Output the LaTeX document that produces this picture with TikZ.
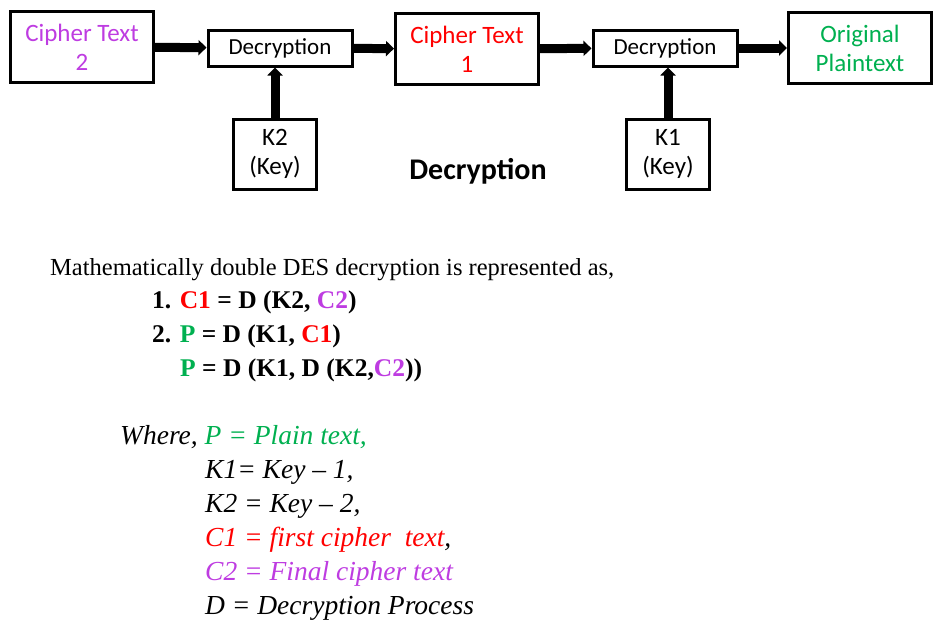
\documentclass[tikz,border=0pt]{standalone}
\usepackage{fontspec}
\setmainfont{Liberation Serif}
\newfontfamily\boxfont{Carlito}
\usetikzlibrary{arrows.meta}
\definecolor{cpurple}{RGB}{190,60,225}
\definecolor{cgreen}{RGB}{0,176,80}
\definecolor{cred}{RGB}{255,0,0}
\begin{document}
\begin{tikzpicture}[x=1pt,y=-1pt,
    box/.style={draw=black, line width=3pt, align=center, inner sep=0pt,
                font=\boxfont\fontsize{25}{29}\selectfont},
    dec/.style={box, minimum width=144pt, minimum height=36pt,
                font=\boxfont\fontsize{23}{26}\selectfont},
    txt/.style={box, minimum width=143pt, minimum height=71pt},
    key/.style={box, minimum width=83pt, minimum height=70pt},
    flow/.style={line width=9pt, -{Triangle[length=8pt,width=15pt]}},
    line/.style={anchor=base west, inner sep=0pt, font=\fontsize{24.5}{28}\selectfont}]
    \useasboundingbox (0,0) rectangle (943,633);
    % BOXES
    \node[txt, text=cpurple] (C2) at (82,47) {Cipher Text\\2};
    \node[dec] (D1) at (280,48) {Decryption};
    \node[txt, text=cred] (C1) at (467,49) {Cipher Text\\1};
    \node[dec] (D2) at (665,48) {Decryption};
    \node[txt, text=cgreen] (P) at (860,48) {Original\\Plaintext};
    \node[key] (K2) at (275,154) {K2\\(Key)};
    \node[key] (K1) at (668,154) {K1\\(Key)};
    % caption
    \node[font=\boxfont\bfseries\fontsize{30}{34}\selectfont] (Cap) at (478,171) {Decryption};

    % ARROWS
    \draw[flow] (C2) -- (D1);
    \draw[flow] (D1) -- (C1);
    \draw[flow] (C1) -- (D2);
    \draw[flow] (D2) -- (P);
    \draw[flow] (K2.north) -- (K2.north |- D1.south);
    \draw[flow] (K1.north) -- (K1.north |- D2.south);

    % EQUATIONS
    \node[line] (L0) at (50,275) {Mathematically double DES decryption is represented as,};
    \node[line, font=\bfseries\fontsize{25.5}{28}\selectfont] (L1) at (152,308)
      {1. \textcolor{cred}{C1} = D (K2, \textcolor{cpurple}{C2})};
    \node[line, font=\bfseries\fontsize{25.5}{28}\selectfont] (L2) at (152,342)
      {2. \textcolor{cgreen}{P} = D (K1, \textcolor{cred}{C1})};
    \node[line, font=\bfseries\fontsize{25.5}{28}\selectfont] (L3) at (180,376)
      {\textcolor{cgreen}{P} = D (K1, D (K2,\textcolor{cpurple}{C2}))};

    % LEGEND
    \node[line, font=\itshape\fontsize{27.5}{28}\selectfont] (W) at (120,444)
      {Where, \textcolor{cgreen}{P = Plain text,}};
    \node[line, font=\itshape\fontsize{27.5}{28}\selectfont] (Wk1) at (205,478) {K1= Key -- 1,};
    \node[line, font=\itshape\fontsize{27.5}{28}\selectfont] (Wk2) at (205,512) {K2 = Key -- 2,};
    \node[line, font=\itshape\fontsize{27.5}{28}\selectfont, text=cred] (Wc1) at (205,546) {C1 = first cipher\ \ text\textcolor{black}{,}};
    \node[line, font=\itshape\fontsize{27.5}{28}\selectfont, text=cpurple] (Wc2) at (205,580) {C2 = Final cipher text};
    \node[line, font=\itshape\fontsize{27.5}{28}\selectfont] (Wd) at (205,614) {D = Decryption Process};
\end{tikzpicture}
\end{document}
